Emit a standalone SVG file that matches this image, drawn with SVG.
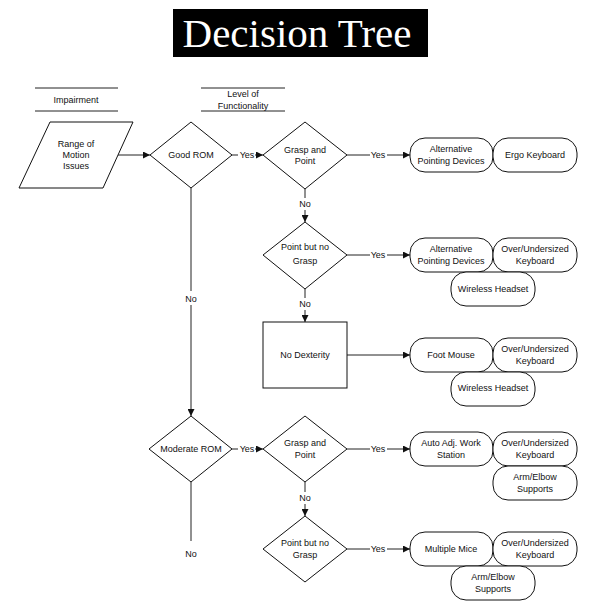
<svg xmlns="http://www.w3.org/2000/svg" width="596" height="616" viewBox="0 0 596 616">
<defs>
<style>
.s{fill:#fff;stroke:#111;stroke-width:1}
.l{fill:none;stroke:#222;stroke-width:1}
.t{font-family:"Liberation Sans",Arial,sans-serif;font-size:9px;fill:#111;text-anchor:middle}
.lb{font-family:"Liberation Sans",Arial,sans-serif;font-size:9px;fill:#111;text-anchor:middle}
</style>
<marker id="a" viewBox="0 0 10 10" refX="10" refY="5" markerWidth="7" markerHeight="7" orient="auto" markerUnits="userSpaceOnUse"><path d="M0,0L10,5L0,10z" fill="#111"/></marker>
</defs>
<rect width="596" height="616" fill="#fff"/>
<g id="title">
<rect x="173" y="9" width="255" height="48" fill="#000"/>
<text x="297" y="47" font-family="'Liberation Serif','Times New Roman',serif" font-size="41" fill="#fff" text-anchor="middle">Decision Tree</text>
</g>
<g id="hdr-impairment">
<line class="l" x1="35" y1="88" x2="118" y2="88"/><line class="l" x1="35" y1="111" x2="118" y2="111"/>
<text class="t" x="76" y="103">Impairment</text>
</g>
<g id="hdr-level">
<line class="l" x1="201" y1="88" x2="285" y2="88"/><line class="l" x1="201" y1="111" x2="285" y2="111"/>
<text class="t" x="243" y="97">Level of</text><text class="t" x="243" y="109">Functionality</text>
</g>
<g id="connectors">
<line class="l" x1="118" y1="155" x2="150" y2="155" marker-end="url(#a)"/>
<line class="l" x1="232" y1="155" x2="238" y2="155"/><line class="l" x1="255" y1="155" x2="263" y2="155" marker-end="url(#a)"/>
<line class="l" x1="347" y1="155" x2="370" y2="155"/><line class="l" x1="387" y1="155" x2="410" y2="155" marker-end="url(#a)"/>
<line class="l" x1="305" y1="189" x2="305" y2="198"/><line class="l" x1="305" y1="210" x2="305" y2="222" marker-end="url(#a)"/>
<line class="l" x1="347" y1="255" x2="370" y2="255"/><line class="l" x1="387" y1="255" x2="410" y2="255" marker-end="url(#a)"/>
<line class="l" x1="305" y1="289" x2="305" y2="298"/><line class="l" x1="305" y1="310" x2="305" y2="322" marker-end="url(#a)"/>
<line class="l" x1="347" y1="355" x2="410" y2="355" marker-end="url(#a)"/>
<line class="l" x1="191" y1="188" x2="191" y2="291"/><line class="l" x1="191" y1="305" x2="191" y2="416" marker-end="url(#a)"/>
<line class="l" x1="232" y1="449" x2="238" y2="449"/><line class="l" x1="255" y1="449" x2="263" y2="449" marker-end="url(#a)"/>
<line class="l" x1="347" y1="449" x2="370" y2="449"/><line class="l" x1="387" y1="449" x2="410" y2="449" marker-end="url(#a)"/>
<line class="l" x1="305" y1="482" x2="305" y2="492"/><line class="l" x1="305" y1="504" x2="305" y2="516" marker-end="url(#a)"/>
<line class="l" x1="347" y1="549" x2="370" y2="549"/><line class="l" x1="387" y1="549" x2="410" y2="549" marker-end="url(#a)"/>
<line class="l" x1="191" y1="482" x2="191" y2="541"/>
<text class="lb" x="247" y="158">Yes</text>
<text class="lb" x="378" y="158">Yes</text>
<text class="lb" x="305" y="207">No</text>
<text class="lb" x="378" y="258">Yes</text>
<text class="lb" x="305" y="307">No</text>
<text class="lb" x="191" y="302">No</text>
<text class="lb" x="247" y="452">Yes</text>
<text class="lb" x="378" y="452">Yes</text>
<text class="lb" x="305" y="501">No</text>
<text class="lb" x="378" y="552">Yes</text>
<text class="lb" x="191" y="557">No</text>
</g>
<g id="range">
<polygon class="s" points="50,122 133,122 103,188 19,188"/>
<text class="t" x="76" y="147">Range of</text><text class="t" x="76" y="158">Motion</text><text class="t" x="76" y="169">Issues</text>
</g>
<g id="good-rom"><polygon class="s" points="191,122 232,155 191,188 150,155"/><text class="t" x="191" y="158">Good ROM</text></g>
<g id="grasp1"><polygon class="s" points="305,122 347,155 305,189 263,155"/><text class="t" x="305" y="153">Grasp and</text><text class="t" x="305" y="164">Point</text></g>
<g id="point1"><polygon class="s" points="305,222 347,255 305,289 263,255"/><text class="t" x="305" y="250">Point but no</text><text class="t" x="305" y="264">Grasp</text></g>
<g id="nodex"><rect class="s" x="263" y="322" width="84" height="66"/><text class="t" x="305" y="358">No Dexterity</text></g>
<g id="mod-rom"><polygon class="s" points="191,416 232,449 191,482 149,449"/><text class="t" x="191" y="452">Moderate ROM</text></g>
<g id="grasp2"><polygon class="s" points="305,416 347,449 305,482 263,449"/><text class="t" x="305" y="446">Grasp and</text><text class="t" x="305" y="458">Point</text></g>
<g id="point2"><polygon class="s" points="305,516 347,549 305,582 263,549"/><text class="t" x="305" y="546">Point but no</text><text class="t" x="305" y="558">Grasp</text></g>
<g id="r1a"><rect class="s" x="410" y="138" width="83" height="34" rx="15"/><text class="t" x="451" y="152">Alternative</text><text class="t" x="451" y="164">Pointing Devices</text></g>
<g id="r1b"><rect class="s" x="493" y="138" width="84" height="34" rx="15"/><text class="t" x="535" y="158">Ergo Keyboard</text></g>
<g id="r2a"><rect class="s" x="410" y="238" width="83" height="34" rx="15"/><text class="t" x="451" y="252">Alternative</text><text class="t" x="451" y="264">Pointing Devices</text></g>
<g id="r2b"><rect class="s" x="493" y="238" width="84" height="34" rx="15"/><text class="t" x="535" y="252">Over/Undersized</text><text class="t" x="535" y="264">Keyboard</text></g>
<g id="r2c"><rect class="s" x="451" y="272" width="84" height="34" rx="15"/><text class="t" x="493" y="292">Wireless Headset</text></g>
<g id="r3a"><rect class="s" x="410" y="338" width="83" height="34" rx="15"/><text class="t" x="451" y="358">Foot Mouse</text></g>
<g id="r3b"><rect class="s" x="493" y="338" width="84" height="34" rx="15"/><text class="t" x="535" y="352">Over/Undersized</text><text class="t" x="535" y="364">Keyboard</text></g>
<g id="r3c"><rect class="s" x="451" y="372" width="84" height="34" rx="15"/><text class="t" x="493" y="391">Wireless Headset</text></g>
<g id="r4a"><rect class="s" x="410" y="432" width="83" height="34" rx="15"/><text class="t" x="451" y="446">Auto Adj. Work</text><text class="t" x="451" y="458">Station</text></g>
<g id="r4b"><rect class="s" x="493" y="432" width="84" height="34" rx="15"/><text class="t" x="535" y="446">Over/Undersized</text><text class="t" x="535" y="458">Keyboard</text></g>
<g id="r4c"><rect class="s" x="493" y="466" width="84" height="34" rx="15"/><text class="t" x="535" y="480">Arm/Elbow</text><text class="t" x="535" y="492">Supports</text></g>
<g id="r5a"><rect class="s" x="410" y="532" width="83" height="34" rx="15"/><text class="t" x="451" y="552">Multiple Mice</text></g>
<g id="r5b"><rect class="s" x="493" y="532" width="84" height="34" rx="15"/><text class="t" x="535" y="546">Over/Undersized</text><text class="t" x="535" y="558">Keyboard</text></g>
<g id="r5c"><rect class="s" x="451" y="566" width="84" height="34" rx="15"/><text class="t" x="493" y="580">Arm/Elbow</text><text class="t" x="493" y="592">Supports</text></g>
</svg>
